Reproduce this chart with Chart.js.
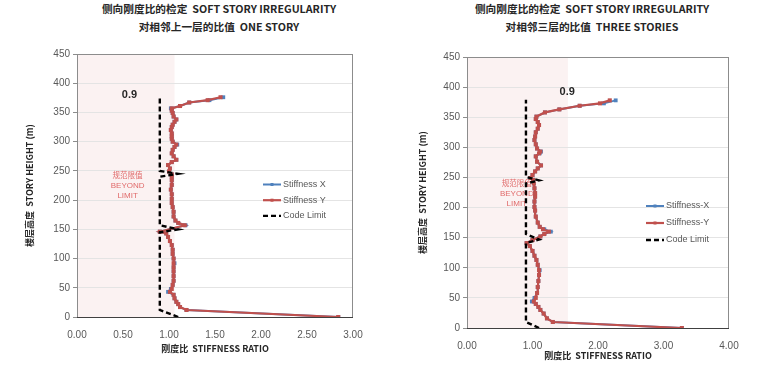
<!DOCTYPE html>
<html>
<head>
<meta charset="utf-8">
<script src="https://cdn.jsdelivr.net/npm/chart.js@4.4.1/dist/chart.umd.min.js"></script>
<style>
  body { margin:0; background:#fff; width:760px; height:372px; overflow:hidden; position:relative; font-family:"Noto Sans CJK SC", sans-serif; }
  canvas { position:absolute; top:0; }
  .ttl { position:absolute; top:0; width:360px; text-align:center; font-weight:bold; font-size:10.7px; color:#262626; line-height:18px; white-space:nowrap; }
</style>
</head>
<body>
<div class="ttl" style="left:39px">侧向刚度比的检定&nbsp; SOFT STORY IRREGULARITY<br>对相邻上一层的比值&nbsp; ONE STORY</div>
<div class="ttl" style="left:412px">侧向刚度比的检定&nbsp; SOFT STORY IRREGULARITY<br>对相邻三层的比值&nbsp; THREE STORIES</div>
<canvas id="c1" width="380" height="372" style="left:0"></canvas>
<canvas id="c2" width="380" height="372" style="left:380px"></canvas>
<script>
// one story chart
const storyH1 = [0,12,17,22,26,32,38,43,48,55,62,70,78,85,92,100,108,115,123,130,137,143,146,157,161,165,172,180,188,195,202,210,218,226,234,240,244,249,254,260,265,269,275,280,286,291,295,300,305,309,314,320,325,329,334,338,343,349,353,357,361,367,371,376]
const stiffY1 = [2.84,1.19,1.12,1.10,1.08,1.06,1.05,1.01,1.03,1.04, 1.05,1.05,1.05,1.05,1.05,1.05,1.04,1.04,1.03,1.01, 0.99,0.97,0.90,1.17,1.10,1.07,1.05,1.05,1.04,1.03, 1.03,1.03,1.02,1.03,1.03,1.03,1.03,1.00,1.01,0.99, 1.03,1.08,1.05,1.03,1.04,1.06,1.08,1.04,1.03,1.03, 1.03,1.02,1.03,1.04,1.06,1.08,1.05,1.04,1.03,1.03, 1.12,1.22,1.42,1.56]
const stiffX1 = [2.84,1.19,1.12,1.10,1.08,1.06,1.05,0.99,1.02,1.04, 1.05,1.05,1.05,1.05,1.06,1.05,1.04,1.04,1.03,1.01, 0.99,0.97,0.90,1.18,1.10,1.07,1.05,1.05,1.04,1.03, 1.03,1.03,1.02,1.03,1.03,1.03,1.03,1.00,1.01,0.99, 1.03,1.08,1.05,1.03,1.04,1.06,1.09,1.04,1.03,1.03, 1.03,1.02,1.03,1.04,1.06,1.08,1.05,1.04,1.03,1.02, 1.12,1.22,1.44,1.59]
const limitH1 = [0,12,145,150,157,240,245,250,378]
const limitR1 = [1.1,0.9,0.9,1.1,0.9,0.9,1.1,0.9,0.9]

// three stories chart
const storyH2 = [0,10,16,24,30,35,40,44,50,58,68,78,88,96,105,113,120,128,136,141,146,152,156,160,164,168,175,185,195,201,210,218,224,232,240,246,249,254,260,265,270,276,285,290,293,298,305,312,318,325,331,337,342,347,351,358,363,369,373,378]
const stiffY2 = [3.28,1.31,1.22,1.17,1.12,1.09,1.05,1.02,1.05,1.07, 1.08,1.09,1.10,1.10,1.08,1.06,1.03,1.00,0.96,0.91, 1.00,1.12,1.18,1.25,1.16,1.11,1.08,1.05,1.04,1.03, 1.03,1.04,1.04,1.03,1.02,1.01,0.97,1.00,1.04,1.08, 1.13,1.07,1.05,1.10,1.12,1.07,1.05,1.03,1.04,1.05, 1.08,1.10,1.08,1.05,1.06,1.19,1.41,1.72,2.03,2.18]
const stiffX2 = [3.28,1.31,1.22,1.17,1.12,1.09,1.05,0.99,1.03,1.07, 1.08,1.09,1.10,1.11,1.08,1.06,1.03,1.00,0.96,0.91, 1.00,1.12,1.18,1.28,1.18,1.11,1.08,1.05,1.04,1.03, 1.03,1.04,1.04,1.03,1.02,1.01,0.97,1.00,1.04,1.08, 1.13,1.07,1.05,1.11,1.13,1.07,1.05,1.03,1.04,1.05, 1.08,1.10,1.08,1.05,1.06,1.19,1.41,1.72,2.09,2.27]
const limitH2 = [0,10,141,147,156,240,245,251,379]
const limitR2 = [1.1,0.9,0.9,1.1,0.9,0.9,1.1,0.9,0.9]

const labels1 = ['Stiffness X', 'Stiffness Y', 'Code Limit']
const labels2 = ['Stiffness-X', 'Stiffness-Y', 'Code Limit']

function pts(xs, ys) {
  return xs.map(function(v, i) { return { x: v, y: ys[i] } })
}

const TICK = '#595959'
const FONT = '"Liberation Sans", Arial, sans-serif'
const CJK = '"Noto Sans CJK SC", sans-serif'

// shading, border, notes and legend
const decor = {
  id: 'decor',
  beforeDraw(chart, args, o) {
    const a = chart.chartArea, ctx = chart.ctx
    const xr = chart.scales.x.getPixelForValue(o.shadeTo)
    ctx.save()
    ctx.fillStyle = '#fbf2f2'
    ctx.fillRect(a.left, a.top, xr - a.left, a.bottom - a.top)
    ctx.restore()
  },
  beforeDatasetsDraw(chart, args, o) {
    const ctx = chart.ctx
    const px = chart.scales.x.getPixelForValue(o.note[0])
    const py = chart.scales.y.getPixelForValue(o.note[1])
    ctx.save()
    ctx.fillStyle = '#e06a6a'
    ctx.textAlign = 'center'
    ctx.textBaseline = 'middle'
    ctx.font = '7.5px ' + CJK
    ctx.fillText('规范限值', px, py)
    ctx.font = '8px ' + FONT
    ctx.fillText('BEYOND', px, py + 10.5)
    ctx.fillText('LIMIT', px, py + 21)
    ctx.restore()
  },
  afterDraw(chart, args, o) {
    const a = chart.chartArea, ctx = chart.ctx
    ctx.save()
    ctx.strokeStyle = '#8c8c8c'
    ctx.lineWidth = 1
    ctx.strokeRect(a.left + 0.5, a.top + 0.5, a.right - a.left - 1, a.bottom - a.top)
    ctx.strokeStyle = '#404040'
    ctx.beginPath()
    ctx.moveTo(a.left, a.bottom + 0.5)
    ctx.lineTo(a.right, a.bottom + 0.5)
    ctx.stroke()

    // 0.9 label
    ctx.fillStyle = '#262626'
    ctx.font = 'bold 11px ' + FONT
    ctx.textAlign = 'center'
    ctx.textBaseline = 'middle'
    ctx.fillText('0.9', chart.scales.x.getPixelForValue(o.limitLabel[0]), chart.scales.y.getPixelForValue(o.limitLabel[1]))

    // legend
    const L = o.legend
    chart.data.datasets.forEach(function(ds, i) {
      const y = L.y + i * L.gap
      ctx.strokeStyle = ds.borderColor
      ctx.lineWidth = ds.borderWidth
      ctx.setLineDash(ds.borderDash || [])
      ctx.beginPath()
      ctx.moveTo(L.x, y)
      ctx.lineTo(L.x + 18, y)
      ctx.stroke()
      ctx.setLineDash([])
      if (ds.pointRadius) {
        ctx.fillStyle = ds.borderColor
        ctx.fillRect(L.x + 9 - 1.5, y - 1.5, 3, 3)
      }
      ctx.fillStyle = TICK
      ctx.font = '9px ' + FONT
      ctx.textAlign = 'left'
      ctx.fillText(ds.label, L.x + 20, y)
    })
    ctx.restore()
  }
}

function makeChart(id, xs, ys, yx, lh, lr, labels, cfg) {
  return new Chart(document.getElementById(id), {
    type: 'scatter',
    data: {
      datasets: [
        { label: labels[0], data: pts(xs, yx), showLine: true, borderColor: '#4f81bd', backgroundColor: '#4f81bd', borderWidth: 2, pointRadius: 1.3, pointStyle: 'rect', order: 2 },
        { label: labels[1], data: pts(ys, yx), showLine: true, borderColor: '#c0504d', backgroundColor: '#c0504d', borderWidth: 2.2, pointRadius: 1.3, pointStyle: 'rect', order: 1 },
        { label: labels[2], data: pts(lr, lh), showLine: true, borderColor: '#000000', borderWidth: 2.4, borderDash: [5, 3], pointRadius: 0, order: 0 }
      ]
    },
    options: {
      responsive: false,
      animation: false,
      devicePixelRatio: 1,
      layout: { padding: cfg.padding },
      plugins: {
        legend: { display: false },
        tooltip: { enabled: false },
        decor: cfg.decor
      },
      scales: {
        x: {
          type: 'linear', min: 0, max: cfg.xMax,
          ticks: { stepSize: cfg.xStep, color: TICK, font: { family: FONT, size: 10 }, padding: 4, callback: function(v) { return v.toFixed(2) } },
          grid: { display: false },
          border: { display: false },
          title: { display: true, text: '刚度比  STIFFNESS RATIO', color: '#262626', font: { family: CJK, size: 9, weight: 'bold' }, padding: { top: 2, bottom: 4 } },
          afterFit: function(s) { s.height = cfg.xH }
        },
        y: {
          type: 'linear', min: 0, max: 450,
          ticks: { stepSize: 50, color: TICK, font: { family: FONT, size: 10 }, padding: 3 },
          grid: { color: '#e4e4e4', tickLength: 4, tickColor: '#8c8c8c' },
          border: { display: false },
          title: { display: true, text: '楼层高度  STORY HEIGHT (m)', color: '#262626', font: { family: CJK, size: 9, weight: 'bold' }, padding: { top: 4, bottom: 4 } },
          afterFit: function(s) { s.width = cfg.yW }
        }
      }
    },
    plugins: [decor]
  })
}

makeChart('c1', stiffX1, stiffY1, storyH1, limitH1, limitR1, labels1, {
  xMax: 3, xStep: 0.5, yW: 57, xH: 41,
  padding: { left: 20, right: 27, top: 54, bottom: 14 },
  decor: { shadeTo: 1.06, limitLabel: [0.57, 380], note: [0.55, 243], legend: { x: 263, y: 184.5, gap: 15.7 } }
})

makeChart('c2', stiffX2, stiffY2, storyH2, limitH2, limitR2, labels2, {
  xMax: 4, xStep: 1, yW: 54, xH: 37,
  padding: { left: 33, right: 31, top: 57, bottom: 7 },
  decor: { shadeTo: 1.54, limitLabel: [1.53, 392], note: [0.76, 241], legend: { x: 266, y: 206, gap: 17 } }
})
</script>
</body>
</html>
